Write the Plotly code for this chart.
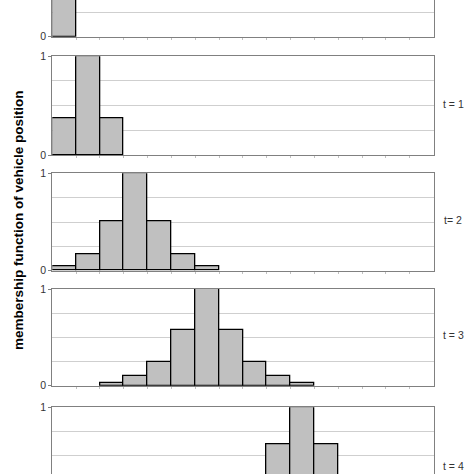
import plotly.graph_objects as go

# category index along the track (16 cells)
cells = list(range(16))

# membership values per time step (None = empty cell)
t0 = [1.0] + [None] * 15
t1 = [0.37, 1.0, 0.37] + [None] * 13
t2 = [0.05, 0.165, 0.51, 1.0, 0.51, 0.165, 0.05] + [None] * 9
t3 = [None, None, 0.03, 0.1, 0.24, 0.58, 1.0, 0.58, 0.24, 0.1, 0.03] + [None] * 5
t4 = [None] * 9 + [0.62, 1.0, 0.62] + [None] * 4

series = [t0, t1, t2, t3, t4]
labels = ["", "t = 1", "t= 2", "t = 3", "t = 4"]

W = H = 474
# panel top/bottom in pixels (top panel and bottom panel are cut by the frame)
panels_px = [(-60.0, 36.7), (56.3, 155.0), (173.3, 270.7), (289.0, 385.7), (407.3, 504.0)]

fig = go.Figure()
for i, vals in enumerate(series):
    n = "" if i == 0 else str(i + 1)
    fig.add_trace(go.Bar(x=cells, y=vals, xaxis="x" + n, yaxis="y" + n,
                         marker=dict(color="#c0c0c0", line=dict(color="black", width=1.3)),
                         showlegend=False, hoverinfo="skip"))

    top, bot = panels_px[i]
    vis_top = max(top, 0)
    vis_bot = min(bot, H)
    h = bot - top
    lo = (bot - vis_bot) / h
    hi = (bot - vis_top) / h
    dom = [1 - vis_bot / H, 1 - vis_top / H]

    xa = dict(domain=[52.3 / W, 433.5 / W], range=[-0.5, 15.5], anchor="y" + n,
              showgrid=False, showticklabels=False, zeroline=False, automargin=False,
              showline=True, linecolor="#808080", linewidth=1,
              ticks="outside", ticklen=2, tickcolor="#c0c0c0", tickvals=[c + 0.5 for c in cells[:-1]])
    if i == 0:
        xa.update(mirror=False)
    elif i == 4:
        xa.update(side="top", ticks="", mirror=False)
    else:
        xa.update(mirror=True)

    ya = dict(domain=dom, range=[lo, hi], anchor="x" + n, automargin=False,
              tickvals=[0, 1], ticktext=["0", "1"], ticks="outside", ticklen=3,
              tickcolor="#808080", tickfont=dict(size=10.5, color="#333333", family="Liberation Sans"),
              showgrid=False, zeroline=False,
              showline=True, mirror=True, linecolor="#808080", linewidth=1,
              minor=dict(tick0=0, dtick=0.25, showgrid=True, gridcolor="#cfcfcf", gridwidth=1, ticks=""))

    fig.layout["xaxis" + n] = xa
    fig.layout["yaxis" + n] = ya

    if labels[i]:
        mid = 1 - ((top + bot) / 2 - 2) / H
        if i == 4:
            mid = 1 - 466 / H
        fig.add_annotation(text=labels[i], x=453 / W, y=mid, xref="paper", yref="paper",
                           xanchor="center", yanchor="middle", showarrow=False,
                           font=dict(size=10.5, color="#333333", family="Liberation Sans"))

fig.add_annotation(text="<b>membership function of vehicle position</b>", textangle=-90,
                   x=18 / W, y=1 - 220 / H, xref="paper", yref="paper", showarrow=False,
                   xanchor="center", yanchor="middle",
                   font=dict(size=13.5, color="black", family="Liberation Sans"))

fig.update_layout(width=W, height=H, margin=dict(l=0, r=0, t=0, b=0, pad=0),
                  bargap=0, plot_bgcolor="white", paper_bgcolor="white")

# page body has a default margin, drop it so the figure sits at the corner
fig.write_html("out.html", config={"displayModeBar": False},
               post_script="document.body.style.margin='0';document.body.style.overflow='hidden';")
